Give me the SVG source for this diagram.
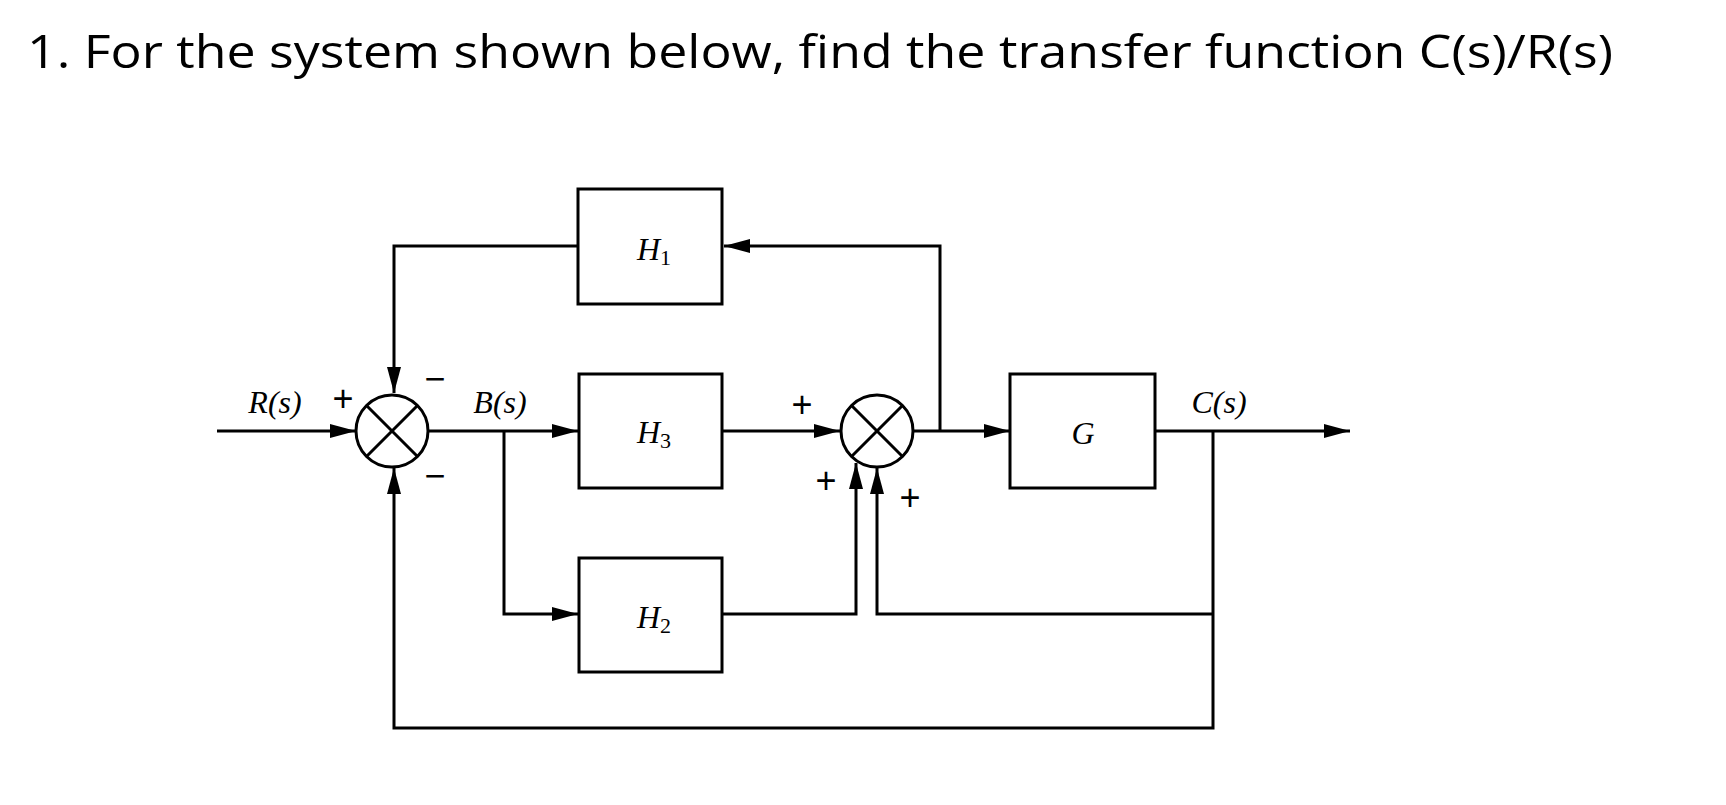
<svg xmlns="http://www.w3.org/2000/svg" width="1726" height="805" viewBox="0 0 1726 805">
<defs>
<marker id="ahb" viewBox="0 0 26 14" refX="26" refY="7" markerWidth="26" markerHeight="14" markerUnits="userSpaceOnUse" orient="auto"><path d="M0,0 L26,7 L0,14 Z" fill="#000"/></marker>
</defs>
<style>
.b{fill:#fff;stroke:#000;stroke-width:3}
.c{fill:none;stroke:#000;stroke-width:3}
.w{fill:none;stroke:#000;stroke-width:3}
.t{font-family:"Liberation Serif",serif;font-style:italic;font-size:32px}
.s{font-family:"Liberation Serif",serif;font-size:22px;font-style:normal}
.p{font-family:"Liberation Sans",sans-serif;font-size:36px}
</style>
<rect width="1726" height="805" fill="#fff"/>
<text x="27" y="68" font-family="Open Sans,sans-serif" font-size="46" textLength="1586" lengthAdjust="spacingAndGlyphs">1. For the system shown below, find the transfer function C(s)/R(s)</text>
<g id="connectors" class="w">
<line x1="217" y1="431" x2="356" y2="431" marker-end="url(#ahb)"/>
<line x1="428" y1="431" x2="578" y2="431" marker-end="url(#ahb)"/>
<polyline points="504,431 504,614 578,614" marker-end="url(#ahb)"/>
<line x1="722" y1="431" x2="840" y2="431" marker-end="url(#ahb)"/>
<line x1="913" y1="431" x2="1010" y2="431" marker-end="url(#ahb)"/>
<polyline points="940,431 940,246 724,246" marker-end="url(#ahb)"/>
<polyline points="578,246 394,246 394,393" marker-end="url(#ahb)"/>
<line x1="1155" y1="431" x2="1350" y2="431" marker-end="url(#ahb)"/>
<polyline points="1213,431 1213,728 394,728 394,468" marker-end="url(#ahb)"/>
<polyline points="1213,614 877,614 877,468" marker-end="url(#ahb)"/>
<polyline points="722,614 856,614 856,463" marker-end="url(#ahb)"/>
</g>
<g id="sum1">
<circle cx="392" cy="431" r="36" class="c"/>
<line x1="367" y1="406" x2="417" y2="456" class="c"/><line x1="417" y1="406" x2="367" y2="456" class="c"/>
<text x="343" y="411" class="p" text-anchor="middle">+</text>
<text x="435" y="391" class="p" text-anchor="middle">−</text>
<text x="435" y="488" class="p" text-anchor="middle">−</text>
</g>
<g id="sum2">
<circle cx="877" cy="431" r="36" class="c"/>
<line x1="852" y1="406" x2="902" y2="456" class="c"/><line x1="902" y1="406" x2="852" y2="456" class="c"/>
<text x="802" y="417" class="p" text-anchor="middle">+</text>
<text x="826" y="493" class="p" text-anchor="middle">+</text>
<text x="910" y="510" class="p" text-anchor="middle">+</text>
</g>
<g id="H1"><rect x="578" y="189" width="144" height="115" class="b"/><text x="637" y="260" class="t">H<tspan class="s" dy="5">1</tspan></text></g>
<g id="H3"><rect x="579" y="374" width="143" height="114" class="b"/><text x="637" y="443" class="t">H<tspan class="s" dy="5">3</tspan></text></g>
<g id="H2"><rect x="579" y="558" width="143" height="114" class="b"/><text x="637" y="628" class="t">H<tspan class="s" dy="5">2</tspan></text></g>
<g id="G"><rect x="1010" y="374" width="145" height="114" class="b"/><text x="1083" y="444" class="t" text-anchor="middle">G</text></g>
<g id="labels">
<text x="275" y="413" class="t" text-anchor="middle">R(s)</text>
<text x="500" y="413" class="t" text-anchor="middle">B(s)</text>
<text x="1219" y="413" class="t" text-anchor="middle">C(s)</text>
</g>
</svg>
